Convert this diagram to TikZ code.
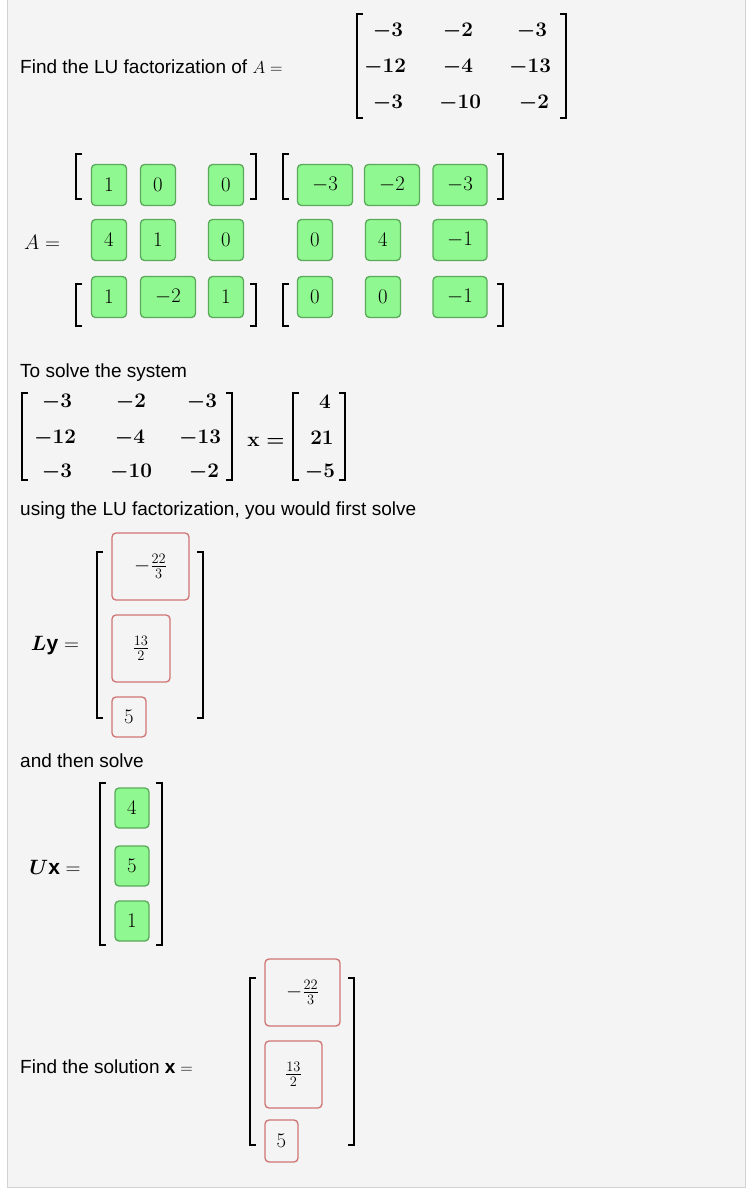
\documentclass[tikz,border=0pt]{standalone}
\usepackage{bm}
\usepackage{fontspec}
\setmainfont{Liberation Sans}
\begin{document}
\begin{tikzpicture}[x=1pt,y=-1pt,
 txt/.style={anchor=west,inner sep=0,font=\fontsize{19}{22}\selectfont},
 mth/.style={inner sep=0,font=\fontsize{21}{24}\selectfont},
 gbox/.style={draw={rgb,255:red,90;green,170;blue,90},fill={rgb,255:red,144;green,248;blue,144},rounded corners=4pt,line width=1.3pt,inner sep=0,minimum height=41pt,font=\fontsize{20}{24}\selectfont},
 rbox/.style={draw={rgb,255:red,208;green,115;blue,115},fill={rgb,255:red,244;green,244;blue,244},rounded corners=4pt,line width=1.3pt,inner sep=0,font=\fontsize{20}{24}\selectfont},
 brk/.style={line width=1.4pt}]
\useasboundingbox (0,0) rectangle (752,1194);
\fill[white] (0,0) rectangle (752,1194);
\draw[fill={rgb,255:red,244;green,244;blue,244},draw=gray!35] (7,-5) rectangle (745,1187);
\newcommand\lb[3]{\draw[brk] (#1+6,#2)--(#1,#2)--(#1,#3)--(#1+6,#3);}
\newcommand\rb[3]{\draw[brk] (#1-6,#2)--(#1,#2)--(#1,#3)--(#1-6,#3);}
% top
\node[txt] (t1) at (20,67) {Find the LU factorization of $A=$};
\lb{357}{14}{118}\rb{566}{14}{118}
\begin{scope}[every node/.style={mth}]
\boldmath
\node (a11) at (388,31) {$-3$};\node (a12) at (458,31) {$-2$};\node (a13) at (532,31) {$-3$};
\node (a21) at (385,67) {$-12$};\node (a22) at (458,67) {$-4$};\node (a23) at (530,67) {$-13$};
\node (a31) at (388,103) {$-3$};\node (a32) at (460,103) {$-10$};\node (a33) at (534,103) {$-2$};
\unboldmath
\end{scope}
% A = LU
\node[mth] (Aeq) at (42,242) {$A=$};
\lb{76}{154}{199}\lb{76}{284}{326}\rb{256}{154}{199}\rb{256}{284}{326}
\lb{283}{154}{199}\lb{283}{284}{326}\rb{503}{154}{199}\rb{503}{284}{326}
\node[gbox,minimum width=35pt] (l11) at (109,185) {$1$};
\node[gbox,minimum width=35pt] (l12) at (158,185) {$0$};
\node[gbox,minimum width=35pt] (l13) at (226,185) {$0$};
\node[gbox,minimum width=35pt] (l21) at (109,240) {$4$};
\node[gbox,minimum width=35pt] (l22) at (158,240) {$1$};
\node[gbox,minimum width=35pt] (l23) at (226,240) {$0$};
\node[gbox,minimum width=35pt] (l31) at (109,297) {$1$};
\node[gbox,minimum width=55pt] (l32) at (168,297) {$-2$};
\node[gbox,minimum width=35pt] (l33) at (226,297) {$1$};
\node[gbox,minimum width=55pt] (u11) at (325,185) {$-3$};
\node[gbox,minimum width=55pt] (u12) at (392,185) {$-2$};
\node[gbox,minimum width=54pt] (u13) at (460,185) {$-3$};
\node[gbox,minimum width=35pt] (u21) at (315,240) {$0$};
\node[gbox,minimum width=35pt] (u22) at (383,240) {$4$};
\node[gbox,minimum width=54pt] (u23) at (460,240) {$-1$};
\node[gbox,minimum width=35pt] (u31) at (315,297) {$0$};
\node[gbox,minimum width=35pt] (u32) at (383,297) {$0$};
\node[gbox,minimum width=54pt] (u33) at (460,297) {$-1$};
% system
\node[txt] (t2) at (20,373) {To solve the system};
\lb{22}{393}{480}\rb{232}{393}{480}
\begin{scope}[every node/.style={mth}]
\boldmath
\node (s11) at (57,402) {$-3$};\node (s12) at (131,402) {$-2$};\node (s13) at (202,402) {$-3$};
\node (s21) at (55,438) {$-12$};\node (s22) at (130,438) {$-4$};\node (s23) at (200,438) {$-13$};
\node (s31) at (57,472) {$-3$};\node (s32) at (131,472) {$-10$};\node (s33) at (204,472) {$-2$};
\node (xeq) at (266,442) {$\mathbf{x}=$};
\node (b1) at (325,402) {$4$};\node (b2) at (322,438) {$21$};\node (b3) at (320,472) {$-5$};
\unboldmath
\end{scope}
\lb{293}{393}{480}\rb{345}{393}{480}
\node[txt] (t3) at (20,511) {using the LU factorization, you would first solve};
% Ly
\node[mth] (Ly) at (55,646) {$\bm{L}\mathbf{y}=$};
\lb{97}{552}{718}\rb{203}{552}{718}
\node[rbox,minimum width=77pt,minimum height=67pt] (y1) at (150.5,566.5) {$-\frac{22}{3}$};
\node[rbox,minimum width=58pt,minimum height=67pt] (y2) at (141,648.5) {$\frac{13}{2}$};
\node[rbox,minimum width=34pt,minimum height=40pt] (y3) at (129,717) {$5$};
\node[txt] (t4) at (20,761) {and then solve};
% Ux
\node[mth] (Ux) at (55,867) {$\bm{U}\mathbf{x}=$};
\lb{100}{783}{945}\rb{162}{783}{945}
\node[gbox,minimum width=34pt,minimum height=40pt] (x1) at (132,808) {$4$};
\node[gbox,minimum width=34pt,minimum height=40pt] (x2) at (132,866) {$5$};
\node[gbox,minimum width=34pt,minimum height=40pt] (x3) at (132,921) {$1$};
% solution
\node[txt] (t5) at (20,1067) {Find the solution $\mathbf{x}=$};
\lb{250}{978}{1145}\rb{354}{978}{1145}
\node[rbox,minimum width=75pt,minimum height=67pt] (z1) at (302.5,992.5) {$-\frac{22}{3}$};
\node[rbox,minimum width=57pt,minimum height=67pt] (z2) at (293.5,1074.5) {$\frac{13}{2}$};
\node[rbox,minimum width=33pt,minimum height=42pt] (z3) at (281.5,1141) {$5$};
\end{tikzpicture}
\end{document}
